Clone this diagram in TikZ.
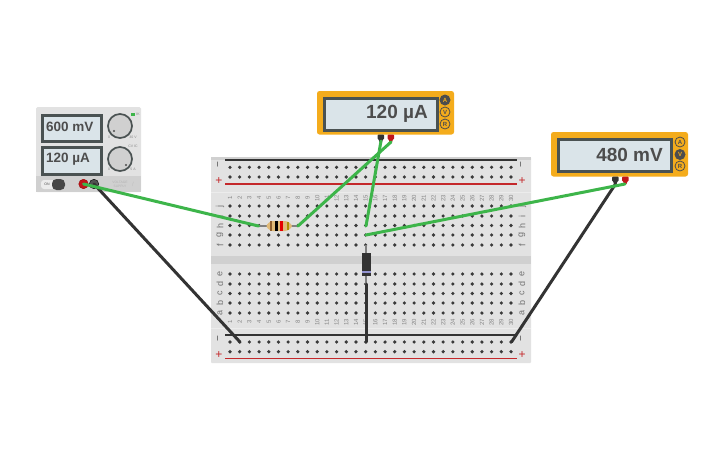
\documentclass[tikz,border=0pt]{standalone}
\usepackage{fontspec}
\setmainfont{Liberation Sans}
\definecolor{board}{HTML}{E2E2E2}
\definecolor{band}{HTML}{D0D0D0}
\definecolor{hole}{HTML}{3A3A3A}
\definecolor{lcd}{HTML}{DAE4E9}
\definecolor{lcdedge}{HTML}{4A5252}
\definecolor{amber}{HTML}{F4AC1C}
\definecolor{wiregreen}{HTML}{3DB54A}
\definecolor{wiredark}{HTML}{333333}
\definecolor{railred}{HTML}{C4282B}
\definecolor{txt}{HTML}{4D4D4D}
\definecolor{psu}{HTML}{E2E2E2}
\definecolor{probered}{HTML}{C0161B}
\definecolor{tan}{HTML}{E0BA78}
\tikzset{
 greenwire/.style={draw=wiregreen,line width=3pt,line cap=round},
 darkwire/.style={draw=wiredark,line width=3pt,line cap=round},
 lcdbox/.style={draw=lcdedge,fill=lcd,line width=3pt,rectangle,inner sep=0pt,anchor=north west},
 readout/.style={font=\bfseries\fontsize{#1}{#1}\selectfont,text=txt,inner sep=0pt},
 holedot/.style={circle,fill=hole,inner sep=0pt,minimum size=3.6pt},
 tiny/.style={font=\fontsize{6}{6}\selectfont,text=gray!95,inner sep=0pt},
 letter/.style={font=\fontsize{9}{9}\selectfont,text=txt!80!white,inner sep=0pt,rotate=90},
 modebtn/.style={circle,draw=txt,line width=.8pt,fill=amber,minimum size=10pt,inner sep=0pt,font=\bfseries\fontsize{6}{6}\selectfont,text=txt},
 modeon/.style={circle,fill=txt,minimum size=11pt,inner sep=0pt,font=\bfseries\fontsize{6}{6}\selectfont,text=amber},
 knob/.style={circle,draw=lcdedge,line width=1.7pt,fill=band,minimum size=24pt,inner sep=0pt},
 probe/.style={rounded corners=1pt,line width=0pt},
}
\begin{document}
\begin{tikzpicture}[x=1pt,y=-1pt]
\useasboundingbox[fill=white] (0,0) rectangle (725,453);
% ---- breadboard
\fill[board,rounded corners=1pt] (211,157) rectangle (531,363);
\fill[band] (211,157) rectangle (531,160);
\fill[band] (211,256) rectangle (531,264);
\draw[white!85!gray,line width=1pt] (211,192.5) -- (531,192.5) (211,328) -- (531,328);
\draw[wiredark,line width=1.3pt] (225,160) -- (517,160);
\draw[railred,line width=1.3pt] (225,184) -- (517,184);
\draw[wiredark,line width=1.3pt] (225,335) -- (517,335);
\draw[railred,line width=1.3pt] (225,358.7) -- (517,358.7);
\foreach \y in {167.3,177,206,216,225.5,235,245,274,284,293.5,303,313,342,351.7}
  \foreach \i in {0,...,29}
    \node[holedot] at ({230+\i*9.69},\y) {};
\foreach \i in {1,...,30}{
  \node[tiny,rotate=90] at ({230+(\i-1)*9.69},198) {\i};
  \node[tiny,rotate=90] at ({230+(\i-1)*9.69},322) {\i};
}
\foreach \y/\l in {206/j,216/i,225.5/h,235/g,245/f,274/e,284/d,293.5/c,303/b,313/a}{
  \node[letter] at (220,\y) {\l};
  \node[letter] at (522,\y) {\l};
}
\foreach \x in {219,522}{
  \node[font=\fontsize{10}{10}\selectfont,text=txt,inner sep=0pt,rotate=90] at (\x,164.5) {−};
  \node[font=\fontsize{10}{10}\selectfont,text=txt,inner sep=0pt,rotate=90] at (\x,338.5) {−};
  \node[font=\fontsize{12}{12}\selectfont,text=railred,inner sep=0pt] at (\x,181.5) {+};
  \node[font=\fontsize{12}{12}\selectfont,text=railred,inner sep=0pt] at (\x,355) {+};
}
% ---- power supply
\fill[psu,rounded corners=1.5pt] (36,107) rectangle (141,192);
\fill[band] (36,176) rectangle (141,192);
\node[lcdbox,minimum width=59pt,minimum height=26.5pt] (supv) at (41,113.5) {};
\node[lcdbox,minimum width=59pt,minimum height=27.5pt] (supi) at (41,145.5) {};
\node[readout=13.5,anchor=west] at (46,127) {600 mV};
\node[readout=13.5,anchor=west] at (46,159.5) {120 µA};
\node[knob] (knobv) at (120,126) {};
\node[knob] (knobi) at (120,159) {};
\fill[txt] (114,131) circle (1.1pt) (126,165) circle (1.1pt);
\fill[wiregreen] (130.5,112.5) rectangle (134.5,116);
\node[tiny,font=\fontsize{3.5}{3.5}\selectfont] at (138,114.5) {IK};
\node[tiny,font=\fontsize{3.5}{3.5}\selectfont] at (133,146.5) {CV IC};
\node[tiny,font=\fontsize{3.5}{3.5}\selectfont] at (109,137.5) {0};
\node[tiny,font=\fontsize{3.5}{3.5}\selectfont] at (133,137.5) {30 V};
\node[tiny,font=\fontsize{3.5}{3.5}\selectfont] at (109,169) {0};
\node[tiny,font=\fontsize{3.5}{3.5}\selectfont] at (133,169) {5 A};
\fill[white!85!gray,rounded corners=3pt] (41,180) rectangle (65,189);
\node[tiny,font=\fontsize{3.5}{3.5}\selectfont,text=txt] at (47,184.5) {ON};
\fill[wiredark!90!white,rounded corners=4.5pt] (52,179) rectangle (65,190);
\node[tiny,font=\fontsize{3.3}{3.5}\selectfont,align=center,text=gray!60] at (120,184.5) {VOLTAGE\\SUPPLY};
\node[tiny,font=\fontsize{6}{6}\selectfont,text=gray!50] at (133,184.5) {/};
\node[circle,fill=probered,draw=red!60!black,line width=.4pt,minimum size=9.5pt,inner sep=0pt] (tpos) at (83.5,184) {};
\node[circle,fill=wiredark!85!white,draw=black,line width=.4pt,minimum size=9.5pt,inner sep=0pt] (tneg) at (94,184) {};
% ---- diode
\coordinate (dtop) at (366,245);
\coordinate (dbot) at (366,284);
\coordinate (drail) at (366,342);
\draw[gray,line width=1.5pt] (dtop) -- (dbot);
\fill[wiredark] (361.5,253) rectangle (371,276);
\fill[gray!60!blue!60] (361.5,270.5) rectangle (371,272.5);
% ---- resistor
\coordinate (rleft) at (258.5,226);
\coordinate (rright) at (298,226);
\draw[gray,line width=1.5pt] (rleft) -- (rright);
\fill[rounded corners=2.5pt,fill=tan] (265.5,226) -- (270.5,221) -- (287.5,221) -- (293,226) -- (287.5,231) -- (270.5,231) -- cycle;
\fill[brown!75!black] (269.5,221.2) rectangle (271.5,230.8);
\fill[black] (275,221.2) rectangle (277.5,230.8);
\fill[red!90!black] (280,221.2) rectangle (282.5,230.8);
\fill[olive!70!orange] (287,222) rectangle (288.5,230);
% ---- ammeter
\fill[amber,rounded corners=2.5pt] (317,91) rectangle (454,134.5);
\node[lcdbox,minimum width=113pt,minimum height=32pt] (alcd) at (322.5,96.5) {};
\node[readout=19,anchor=east] at (428,113.5) {120 µA};
\node[modeon] at (445,100) {A};
\node[modebtn] at (445,112) {V};
\node[modebtn] at (445,124) {R};
\fill[wiredark,probe] (377.5,134.5) rectangle (384,139.5);
\fill[wiredark] (378,138) -- (383.5,138) -- (382,142) -- (379.5,142) -- cycle;
\fill[probered,probe] (387.5,134.5) rectangle (394,139.5);
\fill[probered] (388,138) -- (393.5,138) -- (392,142) -- (389.5,142) -- cycle;
\coordinate (ablack) at (381,141);
\coordinate (ared) at (391,142);
% ---- voltmeter
\fill[amber,rounded corners=2.5pt] (551,132) rectangle (688,176.5);
\node[lcdbox,minimum width=113pt,minimum height=32pt] (vlcd) at (557,138) {};
\node[readout=19,anchor=east] at (663,155) {480 mV};
\node[modebtn] at (680,142) {A};
\node[modeon] at (680,154.5) {V};
\node[modebtn] at (680,166) {R};
\fill[wiredark,probe] (612,176.5) rectangle (618.5,181.5);
\fill[wiredark] (612.5,180) -- (618,180) -- (616.5,184) -- (614,184) -- cycle;
\fill[probered,probe] (622,176.5) rectangle (628.5,181.5);
\fill[probered] (622.5,180) -- (628,180) -- (626.5,184) -- (624,184) -- cycle;
\coordinate (vblack) at (615.5,184);
\coordinate (vred) at (625,184);
% ---- wires
\coordinate (railA) at (240,342);
\coordinate (railB) at (511.5,342);
\coordinate (acol) at (366,226);
\coordinate (vcol) at (366,235);
\draw[darkwire] (tneg.center) -- (railA);
\draw[darkwire] (dbot) -- (drail);
\draw[darkwire] (vblack) -- (railB);
\draw[greenwire] (tpos.center) -- (rleft);
\draw[greenwire] (ared) -- (rright);
\draw[greenwire] (ablack) -- (acol);
\draw[greenwire] (vred) -- (vcol);
\end{tikzpicture}
\end{document}
